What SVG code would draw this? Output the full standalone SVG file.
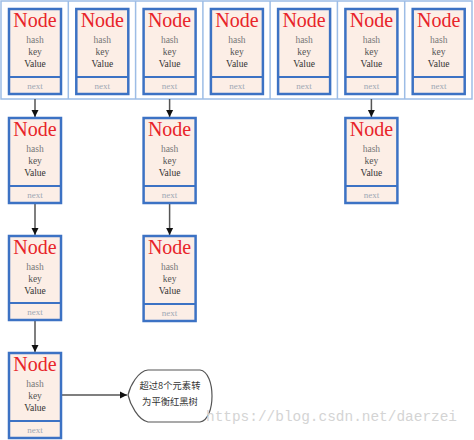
<svg xmlns="http://www.w3.org/2000/svg" width="474" height="440" viewBox="0 0 474 440">
<style>
.arr{fill:none;stroke:#9DBDE6;stroke-width:1.5}
.nb{fill:#FCEEE6;stroke:#3C72C4;stroke-width:2.5}
.nd{stroke:#3C72C4;stroke-width:2}
.n{font-size:20px;fill:#E8242A}
.h{font-size:9.5px;fill:#777}
.k{font-size:9.5px;fill:#555}
.v{font-size:9.5px;fill:#333}
.x{font-size:9px;fill:#A0A8B4}
.c{stroke:#555;stroke-width:1.5;fill:none}
.cn{font-family:'Noto Sans CJK SC',sans-serif;font-size:9.3px;fill:#333;text-anchor:middle}
.wm{font-family:'Liberation Mono',monospace;font-size:14.5px;fill:#D4D4D4}
</style>
<defs>
<marker id="ah" markerWidth="8" markerHeight="8" refX="7" refY="4" orient="auto" markerUnits="userSpaceOnUse">
<path d="M0,0.5 L7,4 L0,7.5 Z" fill="#111"/>
</marker>
</defs>
<g id="table">
<rect class="arr" x="1" y="1" width="471" height="98"/>
<path class="arr" d="M68.3,1V99M135.6,1V99M202.9,1V99M270.1,1V99M337.4,1V99M404.7,1V99"/>
</g>
<g id="connectors">
<path class="c" d="M35,99V117" marker-end="url(#ah)"/>
<path class="c" d="M35,204V235" marker-end="url(#ah)"/>
<path class="c" d="M35,321V352" marker-end="url(#ah)"/>
<path class="c" d="M169.6,99V117" marker-end="url(#ah)"/>
<path class="c" d="M169.6,204V235" marker-end="url(#ah)"/>
<path class="c" d="M371.4,99V117" marker-end="url(#ah)"/>
<path class="c" d="M62,395H127" marker-end="url(#ah)"/>
</g>
<g font-family="Liberation Serif, DejaVu Serif, serif" text-anchor="middle">
<g id="node-0-0" transform="translate(9,9)">
<rect class="nb" x="0" y="0" width="52" height="85"/><line class="nd" x1="0" y1="68" x2="52" y2="68"/>
<text class="n" x="26" y="18">Node</text><text class="h" x="26" y="34">hash</text><text class="k" x="26" y="46">key</text><text class="v" x="26" y="58">Value</text><text class="x" x="26" y="80">next</text>
</g>
<g id="node-0-1" transform="translate(76.3,9)">
<rect class="nb" x="0" y="0" width="52" height="85"/><line class="nd" x1="0" y1="68" x2="52" y2="68"/>
<text class="n" x="26" y="18">Node</text><text class="h" x="26" y="34">hash</text><text class="k" x="26" y="46">key</text><text class="v" x="26" y="58">Value</text><text class="x" x="26" y="80">next</text>
</g>
<g id="node-0-2" transform="translate(143.6,9)">
<rect class="nb" x="0" y="0" width="52" height="85"/><line class="nd" x1="0" y1="68" x2="52" y2="68"/>
<text class="n" x="26" y="18">Node</text><text class="h" x="26" y="34">hash</text><text class="k" x="26" y="46">key</text><text class="v" x="26" y="58">Value</text><text class="x" x="26" y="80">next</text>
</g>
<g id="node-0-3" transform="translate(210.9,9)">
<rect class="nb" x="0" y="0" width="52" height="85"/><line class="nd" x1="0" y1="68" x2="52" y2="68"/>
<text class="n" x="26" y="18">Node</text><text class="h" x="26" y="34">hash</text><text class="k" x="26" y="46">key</text><text class="v" x="26" y="58">Value</text><text class="x" x="26" y="80">next</text>
</g>
<g id="node-0-4" transform="translate(278.1,9)">
<rect class="nb" x="0" y="0" width="52" height="85"/><line class="nd" x1="0" y1="68" x2="52" y2="68"/>
<text class="n" x="26" y="18">Node</text><text class="h" x="26" y="34">hash</text><text class="k" x="26" y="46">key</text><text class="v" x="26" y="58">Value</text><text class="x" x="26" y="80">next</text>
</g>
<g id="node-0-5" transform="translate(345.4,9)">
<rect class="nb" x="0" y="0" width="52" height="85"/><line class="nd" x1="0" y1="68" x2="52" y2="68"/>
<text class="n" x="26" y="18">Node</text><text class="h" x="26" y="34">hash</text><text class="k" x="26" y="46">key</text><text class="v" x="26" y="58">Value</text><text class="x" x="26" y="80">next</text>
</g>
<g id="node-0-6" transform="translate(412.7,9)">
<rect class="nb" x="0" y="0" width="52" height="85"/><line class="nd" x1="0" y1="68" x2="52" y2="68"/>
<text class="n" x="26" y="18">Node</text><text class="h" x="26" y="34">hash</text><text class="k" x="26" y="46">key</text><text class="v" x="26" y="58">Value</text><text class="x" x="26" y="80">next</text>
</g>
<g id="node-1-0" transform="translate(9,118)">
<rect class="nb" x="0" y="0" width="52" height="85"/><line class="nd" x1="0" y1="68" x2="52" y2="68"/>
<text class="n" x="26" y="18">Node</text><text class="h" x="26" y="34">hash</text><text class="k" x="26" y="46">key</text><text class="v" x="26" y="58">Value</text><text class="x" x="26" y="80">next</text>
</g>
<g id="node-2-0" transform="translate(9,236)">
<rect class="nb" x="0" y="0" width="52" height="84"/><line class="nd" x1="0" y1="67" x2="52" y2="67"/>
<text class="n" x="26" y="18">Node</text><text class="h" x="26" y="34">hash</text><text class="k" x="26" y="46">key</text><text class="v" x="26" y="58">Value</text><text class="x" x="26" y="79">next</text>
</g>
<g id="node-3-0" transform="translate(9,353)">
<rect class="nb" x="0" y="0" width="52" height="85"/><line class="nd" x1="0" y1="68" x2="52" y2="68"/>
<text class="n" x="26" y="18">Node</text><text class="h" x="26" y="34">hash</text><text class="k" x="26" y="46">key</text><text class="v" x="26" y="58">Value</text><text class="x" x="26" y="80">next</text>
</g>
<g id="node-1-2" transform="translate(143.6,118)">
<rect class="nb" x="0" y="0" width="52" height="85"/><line class="nd" x1="0" y1="68" x2="52" y2="68"/>
<text class="n" x="26" y="18">Node</text><text class="h" x="26" y="34">hash</text><text class="k" x="26" y="46">key</text><text class="v" x="26" y="58">Value</text><text class="x" x="26" y="80">next</text>
</g>
<g id="node-2-2" transform="translate(143.6,236)">
<rect class="nb" x="0" y="0" width="52" height="85"/><line class="nd" x1="0" y1="68" x2="52" y2="68"/>
<text class="n" x="26" y="18">Node</text><text class="h" x="26" y="34">hash</text><text class="k" x="26" y="46">key</text><text class="v" x="26" y="58">Value</text><text class="x" x="26" y="80">next</text>
</g>
<g id="node-1-5" transform="translate(345.4,118)">
<rect class="nb" x="0" y="0" width="52" height="85"/><line class="nd" x1="0" y1="68" x2="52" y2="68"/>
<text class="n" x="26" y="18">Node</text><text class="h" x="26" y="34">hash</text><text class="k" x="26" y="46">key</text><text class="v" x="26" y="58">Value</text><text class="x" x="26" y="80">next</text>
</g>
</g>
<g id="tree-note">
<path d="M148,370 H200 C216,372 216,420 200,422 H148 C138,420 130,404 128,395 C130,386 138,371 148,370 Z" fill="#fff" stroke="#555" stroke-width="1.2"/>
<text class="cn" x="170" y="389">超过8个元素转</text>
<text class="cn" x="170" y="405">为平衡红黑树</text>
</g>
<text class="wm" x="206" y="421" textLength="251" lengthAdjust="spacingAndGlyphs">https://blog.csdn.net/daerzei</text>
</svg>
